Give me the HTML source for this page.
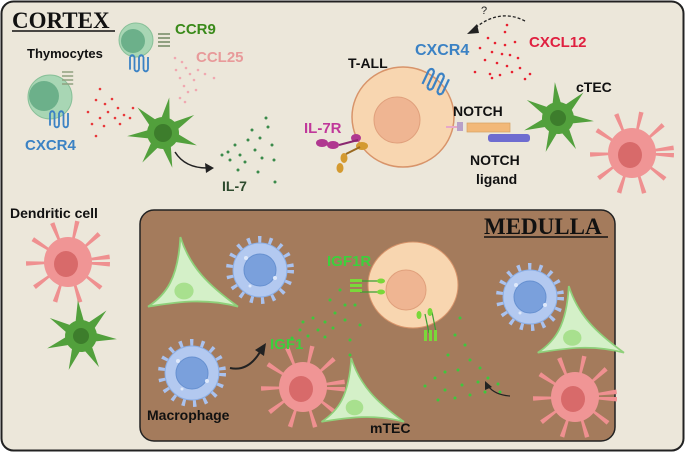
<!DOCTYPE html>
<html><head><meta charset="utf-8"><style>
html,body{margin:0;padding:0;background:#fff;}
svg{display:block}
text{font-family:"Liberation Sans",sans-serif;font-weight:bold}
</style></head><body>
<svg width="685" height="452" viewBox="0 0 685 452" xmlns="http://www.w3.org/2000/svg">
<defs>
<path id="sp" d="M-7,0 L0,-36 L7,0Z"/>
<g id="star">
 <use href="#sp" transform="rotate(0)"/><use href="#sp" transform="rotate(50)"/><use href="#sp" transform="rotate(100)"/>
 <use href="#sp" transform="rotate(155)"/><use href="#sp" transform="rotate(205)"/><use href="#sp" transform="rotate(255)"/><use href="#sp" transform="rotate(305)"/>
 <circle r="16"/>
</g>
<g id="mac">
 <circle r="28" fill="none" stroke="#aac2ee" stroke-width="12" stroke-dasharray="3 7"/>
 <circle r="27" fill="#b3c9f0" stroke="#8aaee6" stroke-width="1"/>
 <circle r="16" fill="#7aa0dc" stroke="#6690d0"/>
 <circle cx="-14" cy="-12" r="2" fill="#dfe9fb"/><circle cx="15" cy="8" r="2" fill="#dfe9fb"/><circle cx="-10" cy="16" r="1.5" fill="#dfe9fb"/>
</g>
<g id="dc">
 <circle r="32" fill="none" stroke="#ef9090" stroke-width="20" stroke-dasharray="3.5 16"/>
 <ellipse rx="24" ry="25" fill="#f09595"/>
 <ellipse cx="-2" cy="2" rx="12" ry="13" fill="#d86a6a"/>
</g>
<g id="mtec">
 <path d="M-35,18 C-20,8 -10,-5 -8,-40 C0,-15 15,0 40,18 C10,10 -15,15 -35,18Z" fill="#d4f0c8" stroke="#8fd07a" stroke-width="1.5"/>
 <ellipse cx="-5" cy="5" rx="8" ry="7" fill="#a8e08e"/>
</g>
<g id="coil" fill="none" stroke="#3b82c4" stroke-width="2">
 <path d="M0,0 v14 M5,0 v14 M10,0 v14 M15,0 v14 M20,0 v14 M0,0 q2.5,-4 5,0 M10,0 q2.5,-4 5,0 M5,14 q2.5,4 5,0 M15,14 q2.5,4 5,0"/>
</g>
</defs>
<rect x="1.5" y="1.5" width="682" height="449" rx="12" fill="#ece7da" stroke="#222" stroke-width="2"/>
<rect x="140" y="210" width="475" height="231" rx="14" fill="#a47b5c" stroke="#222" stroke-width="1.5"/>

<text x="12" y="28" font-size="23" fill="#111" style="font-family:'Liberation Serif',serif">CORTEX</text>
<line x1="12" y1="31" x2="115" y2="31" stroke="#111" stroke-width="1.5"/>
<text x="484" y="234" font-size="23" fill="#111" style="font-family:'Liberation Serif',serif">MEDULLA</text>
<line x1="484" y1="237" x2="608" y2="237" stroke="#111" stroke-width="1.5"/>

<circle cx="136" cy="40" r="17" fill="#a8d6b4" stroke="#88c098"/>
<circle cx="133" cy="41" r="12" fill="#6cb08a"/>
<use href="#coil" transform="translate(130,57) scale(0.9)"/>
<circle cx="50" cy="97" r="22" fill="#a8d6b4" stroke="#88c098"/>
<circle cx="44" cy="96" r="15" fill="#6cb08a"/>
<use href="#coil" transform="translate(50,113) scale(0.9)"/>
<g transform="translate(62,72) scale(0.8)" fill="none" stroke="#90a080" stroke-width="2"><path d="M0,0 h14 M0,5 h14 M0,10 h14 M0,15 h14"/></g>
<g transform="translate(158,34)" fill="none" stroke="#90a080" stroke-width="2"><path d="M0,0 h12 M0,4 h12 M0,8 h12 M0,12 h12"/></g>

<text x="27" y="58" font-size="13" fill="#111">Thymocytes</text>
<text x="175" y="34" font-size="15" fill="#3a8a1a">CCR9</text>
<text x="196" y="62" font-size="15" fill="#e89a9a">CCL25</text>
<text x="25" y="150" font-size="15" fill="#3b82c4">CXCR4</text>

<g fill="#f0a8b0">
<circle cx="175" cy="58" r="1.3"/><circle cx="182" cy="62" r="1.3"/><circle cx="186" cy="68" r="1.3"/><circle cx="176" cy="70" r="1.3"/><circle cx="190" cy="74" r="1.3"/><circle cx="180" cy="78" r="1.3"/><circle cx="194" cy="80" r="1.3"/><circle cx="184" cy="86" r="1.3"/><circle cx="198" cy="70" r="1.3"/><circle cx="205" cy="74" r="1.3"/><circle cx="188" cy="92" r="1.3"/><circle cx="180" cy="98" r="1.3"/><circle cx="196" cy="90" r="1.3"/><circle cx="214" cy="78" r="1.3"/><circle cx="185" cy="102" r="1.3"/>
</g>
<g fill="#e8383a">
<circle cx="100" cy="89" r="1.3"/><circle cx="96" cy="100" r="1.3"/><circle cx="105" cy="104" r="1.3"/><circle cx="112" cy="99" r="1.3"/><circle cx="118" cy="108" r="1.3"/><circle cx="108" cy="112" r="1.3"/><circle cx="124" cy="115" r="1.3"/><circle cx="115" cy="118" r="1.3"/><circle cx="100" cy="118" r="1.3"/><circle cx="130" cy="118" r="1.3"/><circle cx="92" cy="124" r="1.3"/><circle cx="104" cy="126" r="1.3"/><circle cx="120" cy="124" r="1.3"/><circle cx="88" cy="112" r="1.3"/><circle cx="133" cy="108" r="1.3"/><circle cx="96" cy="136" r="1.3"/>
</g>
<use href="#star" transform="translate(163,133) rotate(10)" fill="#52a03c"/>
<circle cx="163" cy="133" r="9" fill="#3d7d2c"/>
<path d="M175,152 Q185,168 207,168" fill="none" stroke="#222" stroke-width="1.5"/>
<path d="M214,168 L205,163 L206,173Z" fill="#222"/>
<g fill="#3a8a4a">
<circle cx="222" cy="155" r="1.5"/><circle cx="228" cy="152" r="1.5"/><circle cx="235" cy="145" r="1.5"/><circle cx="240" cy="155" r="1.5"/><circle cx="248" cy="140" r="1.5"/><circle cx="252" cy="130" r="1.5"/><circle cx="255" cy="150" r="1.5"/><circle cx="260" cy="138" r="1.5"/><circle cx="262" cy="158" r="1.5"/><circle cx="268" cy="127" r="1.5"/><circle cx="272" cy="145" r="1.5"/><circle cx="245" cy="162" r="1.5"/><circle cx="230" cy="160" r="1.5"/><circle cx="266" cy="118" r="1.5"/><circle cx="274" cy="160" r="1.5"/><circle cx="258" cy="172" r="1.5"/><circle cx="275" cy="182" r="1.5"/><circle cx="238" cy="170" r="1.5"/>
</g>
<text x="222" y="191" font-size="14" fill="#2d4a2d">IL-7</text>

<ellipse cx="403" cy="117" rx="51" ry="50" fill="#f8d6b0" stroke="#d8946a" stroke-width="1.5"/>
<circle cx="397" cy="120" r="23" fill="#efb592" stroke="#e0a07c"/>
<text x="348" y="68" font-size="14" fill="#111">T-ALL</text>
<text x="415" y="55" font-size="16" fill="#3b82c4">CXCR4</text>
<use href="#coil" transform="translate(429,70) rotate(25) scale(1.1)"/>
<text x="304" y="133" font-size="15" fill="#c0389a">IL-7R</text>
<g fill="#b03890"><ellipse cx="322" cy="143" rx="6" ry="4"/><ellipse cx="333" cy="145" rx="6" ry="4"/><ellipse cx="356" cy="138" rx="5" ry="4"/></g>
<path d="M339,145 L358,140" stroke="#8a2870" stroke-width="2"/>
<g fill="#d49a30"><ellipse cx="362" cy="146" rx="6" ry="4"/><ellipse cx="344" cy="158" rx="3.5" ry="5"/><ellipse cx="340" cy="168" rx="3.5" ry="5"/></g>
<path d="M346,154 L360,147" stroke="#9a6a20" stroke-width="2"/>
<text x="453" y="116" font-size="14" fill="#111">NOTCH</text>
<line x1="446" y1="127" x2="458" y2="127" stroke="#e8a8c8" stroke-width="2"/>
<rect x="457" y="122" width="6" height="9" fill="#b8a0c8"/>
<rect x="467" y="123" width="43" height="9" fill="#f2b878" stroke="#d8a060" stroke-width="0.7"/>
<rect x="488" y="134" width="42" height="8" rx="3" fill="#6e6cd0"/>
<text x="470" y="165" font-size="14" fill="#111">NOTCH</text>
<text x="476" y="184" font-size="14" fill="#111">ligand</text>
<use href="#star" transform="translate(558,118) rotate(-5)" fill="#52a03c"/>
<circle cx="558" cy="118" r="8" fill="#3d7d2c"/>
<text x="576" y="92" font-size="14" fill="#111">cTEC</text>
<text x="529" y="47" font-size="15" fill="#e02040">CXCL12</text>
<g fill="#e82030">
<circle cx="507" cy="25" r="1.3"/><circle cx="505" cy="32" r="1.3"/><circle cx="488" cy="38" r="1.3"/><circle cx="495" cy="43" r="1.3"/><circle cx="505" cy="45" r="1.3"/><circle cx="515" cy="42" r="1.3"/><circle cx="480" cy="48" r="1.3"/><circle cx="492" cy="52" r="1.3"/><circle cx="502" cy="54" r="1.3"/><circle cx="510" cy="55" r="1.3"/><circle cx="518" cy="58" r="1.3"/><circle cx="485" cy="60" r="1.3"/><circle cx="497" cy="63" r="1.3"/><circle cx="507" cy="66" r="1.3"/><circle cx="520" cy="68" r="1.3"/><circle cx="475" cy="72" r="1.3"/><circle cx="490" cy="74" r="1.3"/><circle cx="500" cy="75" r="1.3"/><circle cx="512" cy="72" r="1.3"/><circle cx="530" cy="74" r="1.3"/><circle cx="525" cy="79" r="1.3"/><circle cx="492" cy="78" r="1.3"/>
</g>
<path d="M525,21 Q500,8 475,28" fill="none" stroke="#222" stroke-width="1.3" stroke-dasharray="3 2"/>
<path d="M467,34 L477,24 L479,33Z" fill="#222"/>
<text x="481" y="14" font-size="11" fill="#222" style="font-weight:normal">?</text>
<use href="#dc" transform="translate(632,153)"/>

<text x="10" y="218" font-size="14" fill="#111">Dendritic cell</text>
<use href="#dc" transform="translate(68,262)"/>
<use href="#star" transform="translate(81,336) rotate(-5)" fill="#52a03c"/>
<circle cx="81" cy="336" r="8" fill="#3d7d2c"/>

<use href="#mtec" transform="translate(190,285) scale(1.2)"/>
<use href="#mac" transform="translate(260,270)"/>
<use href="#mac" transform="translate(192,373)"/>
<use href="#mac" transform="translate(530,297)"/>
<use href="#mtec" transform="translate(578,332) scale(1.15)"/>
<use href="#dc" transform="translate(303,387)"/>
<use href="#dc" transform="translate(575,397)"/>
<use href="#mtec" transform="translate(360,402) scale(1.1)"/>
<ellipse cx="413" cy="285" rx="45" ry="43" fill="#f8d6b0" stroke="#d8946a" stroke-width="1"/>
<circle cx="406" cy="290" r="20" fill="#efb592" stroke="#e0a07c"/>
<text x="327" y="266" font-size="15" fill="#3cd03c">IGF1R</text>
<text x="270" y="349" font-size="15" fill="#3cd03c">IGF1</text>
<g stroke="#3aa030" stroke-width="1.2"><line x1="360" y1="281" x2="380" y2="281"/><line x1="360" y1="292" x2="380" y2="292"/><line x1="425" y1="314" x2="429" y2="333"/><line x1="432" y1="312" x2="436" y2="332"/></g>
<g fill="#7ad83a"><rect x="350" y="279" width="12" height="3"/><rect x="350" y="284" width="12" height="3"/><rect x="350" y="289" width="12" height="3"/><ellipse cx="381" cy="281" rx="4" ry="2.5"/><ellipse cx="381" cy="292" rx="4" ry="2.5"/>
<rect x="424" y="330" width="3" height="11"/><rect x="429" y="330" width="3" height="11"/><rect x="434" y="330" width="3" height="11"/><ellipse cx="419" cy="315" rx="2.5" ry="4"/><ellipse cx="430" cy="312" rx="2.5" ry="4"/></g>
<g fill="#3cc83c">
<circle cx="330" cy="300" r="1.5"/><circle cx="340" cy="290" r="1.5"/><circle cx="335" cy="313" r="1.5"/><circle cx="325" cy="322" r="1.5"/><circle cx="313" cy="318" r="1.5"/><circle cx="303" cy="322" r="1.5"/><circle cx="300" cy="330" r="1.5"/><circle cx="318" cy="330" r="1.5"/><circle cx="333" cy="328" r="1.5"/><circle cx="345" cy="320" r="1.5"/><circle cx="308" cy="336" r="1.5"/><circle cx="325" cy="337" r="1.5"/><circle cx="350" cy="340" r="1.5"/><circle cx="345" cy="305" r="1.5"/><circle cx="355" cy="305" r="1.5"/><circle cx="292" cy="338" r="1.5"/><circle cx="350" cy="355" r="1.5"/><circle cx="360" cy="325" r="1.5"/>
<circle cx="460" cy="318" r="1.5"/><circle cx="455" cy="335" r="1.5"/><circle cx="465" cy="345" r="1.5"/><circle cx="448" cy="355" r="1.5"/><circle cx="470" cy="360" r="1.5"/><circle cx="480" cy="368" r="1.5"/><circle cx="458" cy="370" r="1.5"/><circle cx="445" cy="372" r="1.5"/><circle cx="435" cy="378" r="1.5"/><circle cx="425" cy="386" r="1.5"/><circle cx="445" cy="390" r="1.5"/><circle cx="462" cy="385" r="1.5"/><circle cx="478" cy="382" r="1.5"/><circle cx="488" cy="378" r="1.5"/><circle cx="498" cy="384" r="1.5"/><circle cx="470" cy="395" r="1.5"/><circle cx="455" cy="398" r="1.5"/><circle cx="438" cy="400" r="1.5"/><circle cx="485" cy="392" r="1.5"/><circle cx="500" cy="392" r="1.5"/>
</g>
<path d="M230,368 Q248,372 260,352" fill="none" stroke="#222" stroke-width="2"/>
<path d="M266,343 L255,350 L264,356Z" fill="#222"/>
<path d="M510,396 Q495,395 488,386" fill="none" stroke="#222" stroke-width="1.2"/>
<path d="M485,381 L485,390 L492,387Z" fill="#222"/>
<text x="147" y="420" font-size="14" fill="#111">Macrophage</text>
<text x="370" y="433" font-size="14" fill="#111">mTEC</text>
</svg>
</body></html>
